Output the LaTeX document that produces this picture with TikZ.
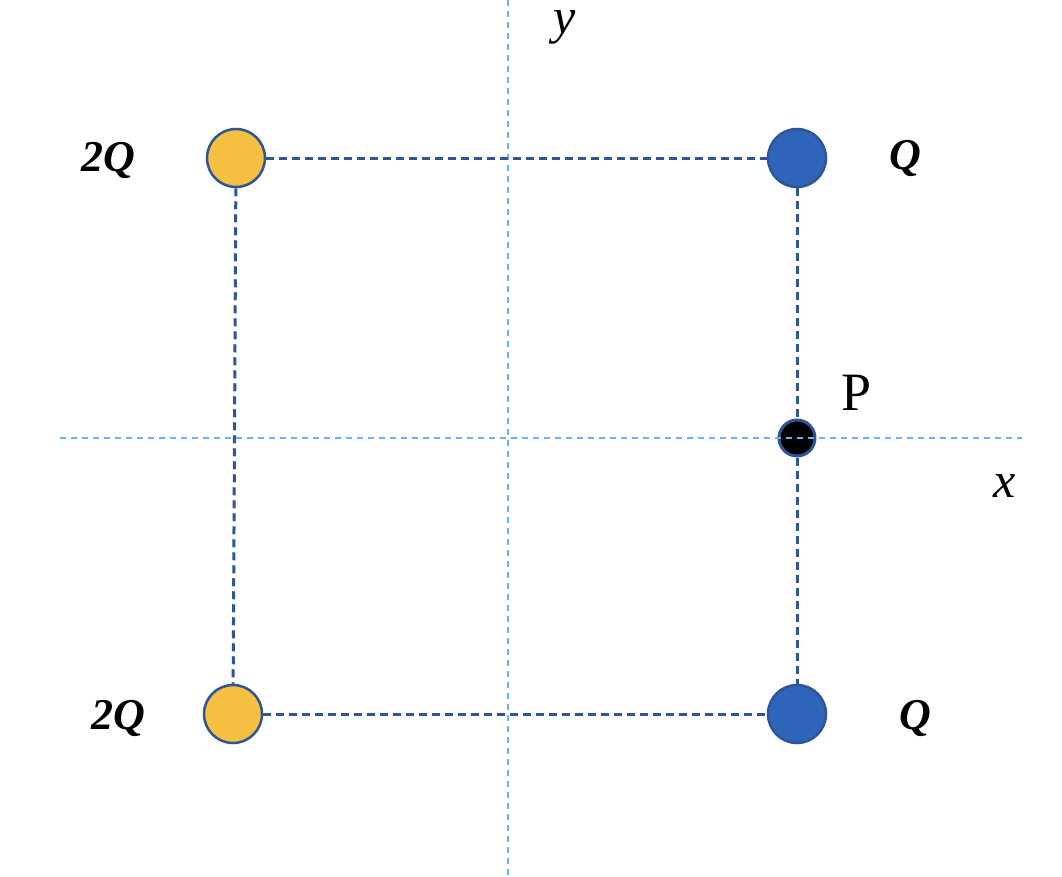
\documentclass[tikz,border=0pt]{standalone}
\usepackage{fontspec}
\setmainfont{Liberation Serif}
\begin{document}
\begin{tikzpicture}[x=1pt,y=-1pt,
  frame/.style={draw=edge,line width=3pt,dash pattern=on 8pt off 5pt},
  axis/.style={draw=axisc,line width=2pt,dash pattern=on 6pt off 5pt},
  yel/.style={circle,fill=gold,draw=edge,line width=2.5pt,minimum size=58pt,inner sep=0pt},
  blu/.style={circle,fill=bluec,draw=edge,line width=2.5pt,minimum size=58pt,inner sep=0pt},
  lab/.style={font=\fontsize{50}{50}\selectfont\itshape},
  qlab/.style={font=\fontsize{44}{44}\selectfont\bfseries\itshape}]
\definecolor{edge}{HTML}{2F5597}
\definecolor{axisc}{HTML}{6FB0F5}
\definecolor{gold}{HTML}{F5BF42}
\definecolor{bluec}{HTML}{2E64BA}
\useasboundingbox (0,0) rectangle (1062,876);
\fill[white] (0,0) rectangle (1062,876);
\coordinate (yt) at (508,0); \coordinate (yb) at (508,876);
\coordinate (xl) at (60,438); \coordinate (xr) at (1022,438);
\draw[axis] (yt) -- (yb);
\node[yel] (a) at (236,158) {};
\node[blu] (b) at (797,158) {};
\node[yel] (c) at (233,714) {};
\node[blu] (d) at (797,714) {};
\node[circle,fill=black,draw=edge,line width=3pt,minimum size=36pt,inner sep=0pt] (p) at (797,438) {};
\draw[frame] (a) -- (b);
\draw[frame] (c) -- (d);
\draw[frame] (a) -- (c);
\draw[frame] (b) -- (p);
\draw[frame] (p) -- (d);
\draw[axis] (xl) -- (xr);
\node[lab] (ly) at (565,27) {y};
\node[lab] (lx) at (1005,486) {x};
\node[qlab] (l1) at (108,160) {2Q};
\node[qlab] (l2) at (905,158) {Q};
\node[qlab] (l3) at (118,718) {2Q};
\node[qlab] (l4) at (915,718) {Q};
\node[font=\fontsize{54}{54}\selectfont] (lp) at (857,393) {P};
\end{tikzpicture}
\end{document}
